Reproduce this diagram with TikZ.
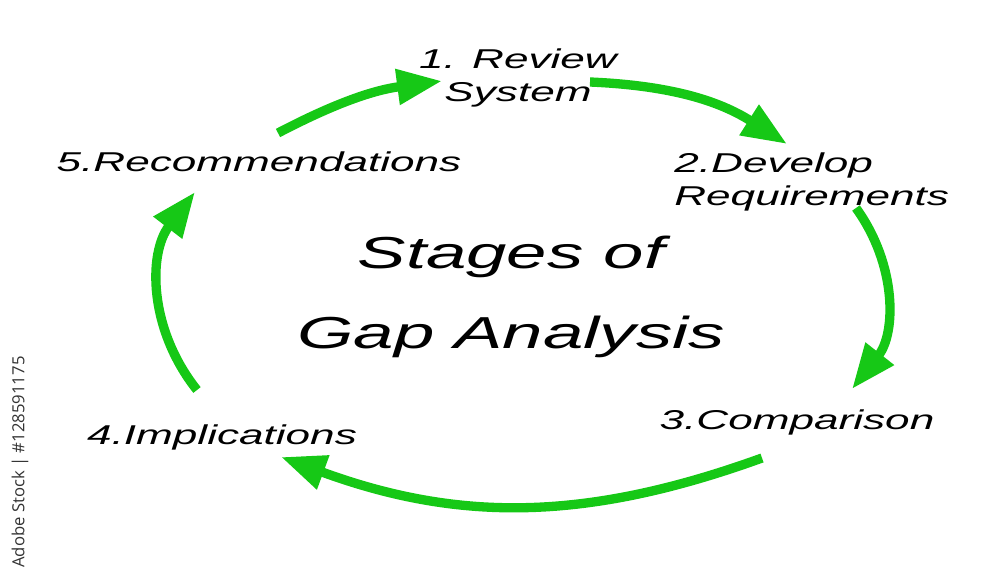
\documentclass[tikz,border=0pt]{standalone}
\usepackage{fontspec}
\setmainfont{Liberation Sans}[FakeStretch=1.62]
\newfontfamily\wmfont{Open Sans}
\usetikzlibrary{arrows.meta}
\definecolor{verde}{RGB}{22,200,22}
\tikzset{
>={Triangle[length=0.9cm,width=0.68cm]},
stage node/.style={font=\fontsize{15.5}{18.5}\selectfont\itshape,inner sep=0pt},
title node/.style={font=\fontsize{25.5}{46}\selectfont\itshape,inner sep=0pt,align=center},
freccia/.style={->,draw=verde,line width=5.3pt}}

\begin{document}
\begin{tikzpicture}[x=0.02cm,y=0.02cm]
\useasboundingbox (0,0) rectangle (1000,586);

\node[stage node,align=center] (1) at (518,508) {1. Review\\System};
\node[stage node,align=left,anchor=west] (2) at (674,404) {2.Develop\\Requirements};
\node[stage node] (3) at (797,164) {3.Comparison};
\node[stage node] (4) at (222,149) {4.Implications};
\node[stage node] (5) at (259,424) {5.Recommendations};
\node[title node] (t) at (511,289) {Stages of\\Gap Analysis};

\coordinate (a1) at (278,453); \coordinate (b1) at (442,505);
\coordinate (a2) at (590,504); \coordinate (b2) at (787,442);
\coordinate (a3) at (856,378); \coordinate (b3) at (852,197);
\coordinate (a4) at (762,128); \coordinate (b4) at (281,129);
\coordinate (a5) at (197,196); \coordinate (b5) at (195,394);

\draw[freccia] (a1) to[bend left=10] (b1);
\draw[freccia] (a2) to[bend left=15] (b2);
\draw[freccia] (a3) to[bend left=37] (b3);
\draw[freccia] (a4) to[bend left=20] (b4);
\draw[freccia] (a5) to[bend left=38] (b5);

\node[rotate=90,font=\wmfont\fontsize{9.5}{10}\selectfont,text=black!80] (w) at (20,124) {Adobe Stock | \#128591175};

\end{tikzpicture}
\end{document}
